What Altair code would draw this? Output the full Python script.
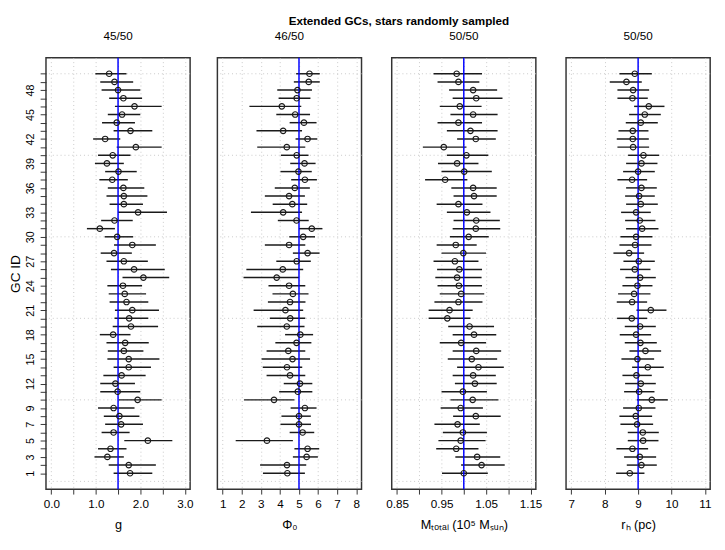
import altair as alt
import pandas as pd

# GC ids, y-axis labels that are printed, and horizontal grid positions
gc_id = list(range(1, 51))
id_labels = [1, 3, 5, 7, 9, 12, 15, 18, 21, 24, 27, 30, 33, 36, 39, 42, 45, 48]
grid_ids = [0, 10, 20, 30, 40, 50]

# g
g_pt = [1.77, 1.74, 1.26, 1.33, 2.17, 1.40, 1.57, 1.53, 1.40, 1.94,
        1.49, 1.44, 1.58, 1.74, 1.74, 1.63, 1.66, 1.39, 1.79, 1.75,
        1.82, 1.69, 1.65, 1.61, 2.07, 1.86, 1.63, 1.41, 1.82, 1.48,
        1.09, 1.42, 1.95, 1.63, 1.63, 1.62, 1.37, 1.51, 1.25, 1.38,
        1.90, 1.21, 1.78, 1.47, 1.59, 1.87, 1.62, 1.50, 1.42, 1.30]
g_lo = [1.40, 1.29, 0.97, 1.05, 1.64, 1.13, 1.21, 1.18, 1.05, 1.51,
        1.10, 1.10, 1.17, 1.40, 1.26, 1.27, 1.24, 1.09, 1.38, 1.42,
        1.43, 1.31, 1.29, 1.26, 1.60, 1.34, 1.24, 1.11, 1.41, 1.20,
        0.80, 1.12, 1.50, 1.31, 1.24, 1.27, 1.08, 1.21, 0.98, 1.05,
        1.47, 0.94, 1.40, 1.14, 1.27, 1.43, 1.30, 1.13, 1.10, 0.99]
g_hi = [2.27, 2.35, 1.63, 1.69, 2.72, 1.76, 2.06, 1.98, 1.87, 2.48,
        2.00, 1.88, 2.12, 2.24, 2.43, 2.07, 2.19, 1.78, 2.40, 2.18,
        2.42, 2.18, 2.13, 2.04, 2.65, 2.55, 2.17, 1.81, 2.35, 1.84,
        1.43, 1.83, 2.60, 2.06, 2.16, 2.09, 1.72, 1.92, 1.63, 1.78,
        2.48, 1.55, 2.27, 1.88, 2.00, 2.48, 2.04, 2.00, 1.84, 1.69]

# Phi_0
phi_pt = [4.39, 4.37, 5.40, 5.45, 3.32, 5.19, 5.00, 5.00, 5.31, 3.69,
          4.94, 5.05, 4.53, 4.37, 4.66, 4.44, 4.87, 5.07, 4.36, 4.54,
          4.29, 4.53, 4.68, 4.48, 3.83, 4.15, 4.88, 5.45, 4.48, 5.22,
          5.67, 4.87, 4.17, 4.65, 4.48, 4.78, 5.31, 4.97, 5.29, 4.88,
          4.36, 5.45, 4.17, 5.26, 4.80, 4.10, 4.88, 4.92, 5.51, 5.55]
phi_lo = [3.11, 2.96, 4.68, 4.76, 1.68, 4.51, 4.03, 4.08, 4.56, 2.12,
          3.96, 4.20, 3.30, 3.10, 3.04, 3.30, 3.76, 4.27, 2.81, 3.47,
          2.62, 3.37, 3.61, 3.40, 2.09, 2.24, 3.81, 4.68, 3.21, 4.49,
          5.00, 3.89, 2.48, 3.62, 3.21, 3.73, 4.59, 4.03, 4.54, 4.05,
          2.81, 4.82, 2.77, 4.51, 3.81, 2.40, 3.93, 3.86, 4.73, 4.85]
phi_hi = [5.31, 5.38, 5.99, 6.06, 4.68, 5.80, 5.63, 5.62, 5.92, 4.76,
          5.70, 5.70, 5.33, 5.17, 5.58, 5.33, 5.65, 5.74, 5.29, 5.33,
          5.22, 5.34, 5.50, 5.33, 5.00, 5.22, 5.62, 6.08, 5.33, 5.84,
          6.23, 5.51, 5.16, 5.43, 5.31, 5.57, 5.94, 5.67, 5.87, 5.50,
          5.33, 5.96, 5.16, 5.92, 5.58, 5.12, 5.60, 5.68, 6.09, 6.09]

# M_total
m_pt = [1.000, 1.040, 1.030, 0.983, 0.993, 0.998, 0.986, 1.027, 0.993, 1.020,
        0.998, 1.025, 1.021, 1.033, 1.018, 1.028, 0.994, 1.023, 1.013, 0.963,
        0.968, 0.988, 0.994, 0.989, 0.985, 0.990, 0.980, 0.999, 0.982, 1.011,
        1.027, 1.028, 1.007, 0.988, 1.023, 1.021, 0.958, 1.001, 0.985, 1.006,
        0.955, 1.027, 1.015, 0.988, 1.021, 0.991, 1.028, 1.021, 0.988, 0.984]
m_lo = [0.951, 0.994, 0.981, 0.938, 0.943, 0.953, 0.934, 0.976, 0.948, 0.970,
        0.950, 0.980, 0.975, 0.985, 0.964, 0.975, 0.946, 0.975, 0.965, 0.921,
        0.921, 0.934, 0.946, 0.941, 0.936, 0.940, 0.932, 0.950, 0.939, 0.969,
        0.975, 0.977, 0.962, 0.939, 0.977, 0.972, 0.913, 0.950, 0.942, 0.962,
        0.908, 0.985, 0.962, 0.941, 0.970, 0.946, 0.975, 0.967, 0.941, 0.932]
m_hi = [1.054, 1.092, 1.082, 1.033, 1.049, 1.052, 1.036, 1.083, 1.043, 1.078,
        1.052, 1.074, 1.072, 1.090, 1.075, 1.084, 1.050, 1.073, 1.068, 1.015,
        1.020, 1.042, 1.046, 1.041, 1.040, 1.041, 1.033, 1.050, 1.029, 1.056,
        1.082, 1.081, 1.060, 1.042, 1.074, 1.074, 1.008, 1.063, 1.033, 1.055,
        1.006, 1.072, 1.076, 1.041, 1.076, 1.040, 1.087, 1.075, 1.035, 1.041]

# r_h
rh_pt = [8.75, 9.10, 9.05, 8.83, 9.15, 9.14, 8.97, 8.93, 9.02, 9.41,
         9.03, 9.08, 8.95, 9.29, 8.98, 9.22, 9.07, 8.94, 9.06, 8.81,
         9.38, 8.82, 8.88, 8.98, 9.06, 8.90, 9.02, 8.73, 8.91, 8.94,
         9.12, 9.05, 8.94, 9.08, 9.03, 9.10, 8.82, 9.00, 9.10, 9.16,
         8.85, 8.84, 8.84, 9.08, 9.20, 9.32, 8.83, 8.85, 8.65, 8.90]
rh_lo = [8.34, 8.66, 8.58, 8.35, 8.69, 8.69, 8.47, 8.44, 8.55, 8.96,
         8.58, 8.61, 8.53, 8.82, 8.50, 8.74, 8.60, 8.45, 8.60, 8.37,
         8.95, 8.36, 8.40, 8.53, 8.62, 8.46, 8.56, 8.26, 8.44, 8.47,
         8.64, 8.61, 8.49, 8.64, 8.61, 8.64, 8.38, 8.55, 8.64, 8.70,
         8.38, 8.36, 8.41, 8.63, 8.73, 8.88, 8.38, 8.38, 8.15, 8.44]
rh_hi = [9.19, 9.56, 9.54, 9.30, 9.61, 9.62, 9.45, 9.42, 9.52, 9.89,
         9.49, 9.53, 9.41, 9.77, 9.48, 9.69, 9.56, 9.39, 9.53, 9.27,
         9.85, 9.27, 9.37, 9.43, 9.53, 9.37, 9.50, 9.18, 9.40, 9.43,
         9.61, 9.52, 9.38, 9.59, 9.50, 9.56, 9.27, 9.50, 9.58, 9.63,
         9.33, 9.32, 9.31, 9.59, 9.68, 9.79, 9.29, 9.33, 9.11, 9.41]

true_vals = [1.5, 5.0, 1.0, 9.0]
panel_titles = ["45/50", "46/50", "50/50", "50/50"]
x_titles = ["g", "Φ₀", "Mₜₒₜₐₗ (10⁵ Mₛᵤₙ)", "rₕ (pc)"]
x_ticks = [[0.0, 0.5, 1.0, 1.5, 2.0, 2.5, 3.0],
           [1, 2, 3, 4, 5, 6, 7, 8],
           [0.85, 0.90, 0.95, 1.00, 1.05, 1.10, 1.15],
           [7, 8, 9, 10, 11]]
x_domains = [[-0.12, 3.12], [0.72, 8.28], [0.838, 1.162], [6.84, 11.16]]
x_label_expr = ["datum.value % 1 == 0 ? format(datum.value, '.1f') : ''",
                "format(datum.value, 'd')",
                "round(datum.value * 100) % 10 == 5 ? format(datum.value, '.2f') : ''",
                "format(datum.value, 'd')"]

FONT = "Liberation Sans"
INK = "#1a1a1a"
GRID = "#c8c8c8"


def panel(k, pt, lo, hi):
    df = pd.DataFrame({"gc": gc_id, "pt": pt, "lo": lo, "hi": hi})
    xs = alt.Scale(domain=x_domains[k], nice=False, zero=False)
    ys = alt.Scale(domain=[-0.96, 51.96], nice=False, zero=False)

    # same axis object on every layer so that the layer merges them into one
    if k == 0:
        yax = alt.Axis(values=gc_id,
                       labelExpr="indexof(%s, datum.value) >= 0 ? datum.label : ''" % id_labels,
                       labelAngle=270, labelAlign="center", labelBaseline="bottom",
                       labelPadding=5, labelFontSize=11, labelOverlap=False,
                       tickSize=6, grid=False, domain=False,
                       title="GC ID", titleFontSize=14, titleFontWeight="normal",
                       titlePadding=2)
    else:
        yax = None

    xax = alt.Axis(values=x_ticks[k], labelExpr=x_label_expr[k], title=x_titles[k],
                   grid=True, gridDash=[1, 3], gridColor=GRID, domain=False,
                   tickSize=5, labelPadding=5, labelFontSize=12, labelOverlap=False,
                   labelFlush=False, titleFontSize=13, titleFontWeight="normal",
                   titlePadding=9)

    hgrid = alt.Chart(pd.DataFrame({"gc": grid_ids})).mark_rule(
        color=GRID, strokeDash=[1, 3], strokeWidth=1
    ).encode(y=alt.Y("gc:Q", scale=ys, axis=yax))

    bars = alt.Chart(df).mark_rule(color=INK, strokeWidth=1.5).encode(
        x=alt.X("lo:Q", scale=xs, axis=xax),
        x2="hi:Q",
        y=alt.Y("gc:Q", scale=ys, axis=yax),
    )

    truth = alt.Chart(pd.DataFrame({"lo": [true_vals[k]]})).mark_rule(
        color="#0000ff", strokeWidth=1.5
    ).encode(x=alt.X("lo:Q", scale=xs, axis=xax))

    pts = alt.Chart(df).mark_point(
        shape="circle", filled=False, size=32, color=INK, strokeWidth=1.2, opacity=1
    ).encode(
        x=alt.X("pt:Q", scale=xs, axis=xax),
        y=alt.Y("gc:Q", scale=ys, axis=yax),
    )

    return alt.layer(hgrid, bars, truth, pts).properties(
        width=148, height=443,
        title=alt.TitleParams(panel_titles[k], fontSize=12, fontWeight="normal", offset=14),
    )


chart = alt.hconcat(
    panel(0, g_pt, g_lo, g_hi),
    panel(1, phi_pt, phi_lo, phi_hi),
    panel(2, m_pt, m_lo, m_hi),
    panel(3, rh_pt, rh_lo, rh_hi),
    spacing=22,
).properties(
    title=alt.TitleParams("Extended GCs, stars randomly sampled", fontSize=12,
                          fontWeight="bold", anchor="middle", offset=2, dx=40),
    padding={"left": 0, "right": 5, "top": 0, "bottom": 0},
).configure_view(
    stroke="#333333", strokeWidth=1.5
).configure_axis(
    labelFont=FONT, titleFont=FONT, labelColor="black", titleColor="black",
    tickColor="#333333", tickWidth=1
).configure_title(
    font=FONT, color="black"
)

chart.save("out.html", embed_options={"renderer": "svg", "actions": False})
